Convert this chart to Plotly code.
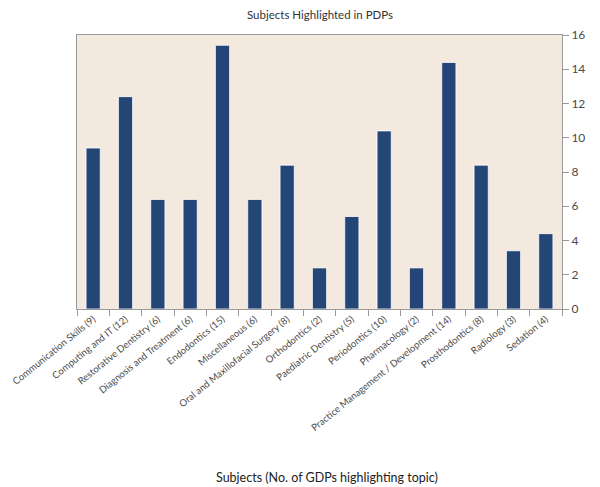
import plotly.graph_objects as go

categories = [
    "Communication Skills (9)", "Computing and IT (12)", "Restorative Dentistry (6)",
    "Diagnosis and Treatment (6)", "Endodontics (15)", "Miscellaneous (6)",
    "Oral and Maxillofacial Surgery (8)", "Orthodontics (2)", "Paediatric Dentistry (5)",
    "Periodontics (10)", "Pharmacology (2)", "Practice Management / Development (14)",
    "Prosthodontics (8)", "Radiology (3)", "Sedation (4)",
]
# bar heights as drawn in the picture
values = [9.4, 12.4, 6.4, 6.4, 15.4, 6.4, 8.4, 2.4, 5.4, 10.4, 2.4, 14.4, 8.4, 3.4, 4.4]
y_ticks = [0, 2, 4, 6, 8, 10, 12, 14, 16]

FONT = "Lato"
TXT = "#4a4a4a"
AX = "#9a9a9a"

fig = go.Figure(go.Bar(
    x=categories, y=values,
    marker=dict(color="#234677", line=dict(color="#ffffff", width=0.8)),
    width=0.44,
))

fig.update_layout(
    width=600, height=487,
    margin=dict(l=69, r=46, t=27, b=186),
    paper_bgcolor="white", plot_bgcolor="#f3e9de",
    showlegend=False,
    font=dict(family=FONT, color=TXT, size=11),
)
fig.update_xaxes(
    tickangle=-39, tickfont=dict(size=9.6, color=TXT, family=FONT),
    showline=True, linecolor=AX, linewidth=1, mirror=True,
    ticks="outside", tickson="boundaries", ticklen=6, tickcolor=AX,
    showgrid=False, automargin=False,
)
fig.update_yaxes(
    side="right", range=[0, 16], tickvals=y_ticks,
    tickfont=dict(size=12, color=TXT, family=FONT),
    showline=True, linecolor=AX, linewidth=1, mirror=True,
    ticks="outside", ticklen=6, tickcolor=AX,
    showgrid=False, zeroline=False, automargin=False,
)
fig.add_annotation(text="Subjects Highlighted in PDPs", xref="paper", yref="paper",
                   x=0.5, y=1, yshift=21, showarrow=False,
                   font=dict(size=11.5, color="#333333", family=FONT), yanchor="middle")
fig.add_annotation(text="Subjects (No. of GDPs highlighting topic)", xref="paper", yref="paper",
                   x=0.515, y=0, yshift=-168, showarrow=False,
                   font=dict(size=12.5, color="#222222", family=FONT), yanchor="middle")

fig.write_html("out.html")
